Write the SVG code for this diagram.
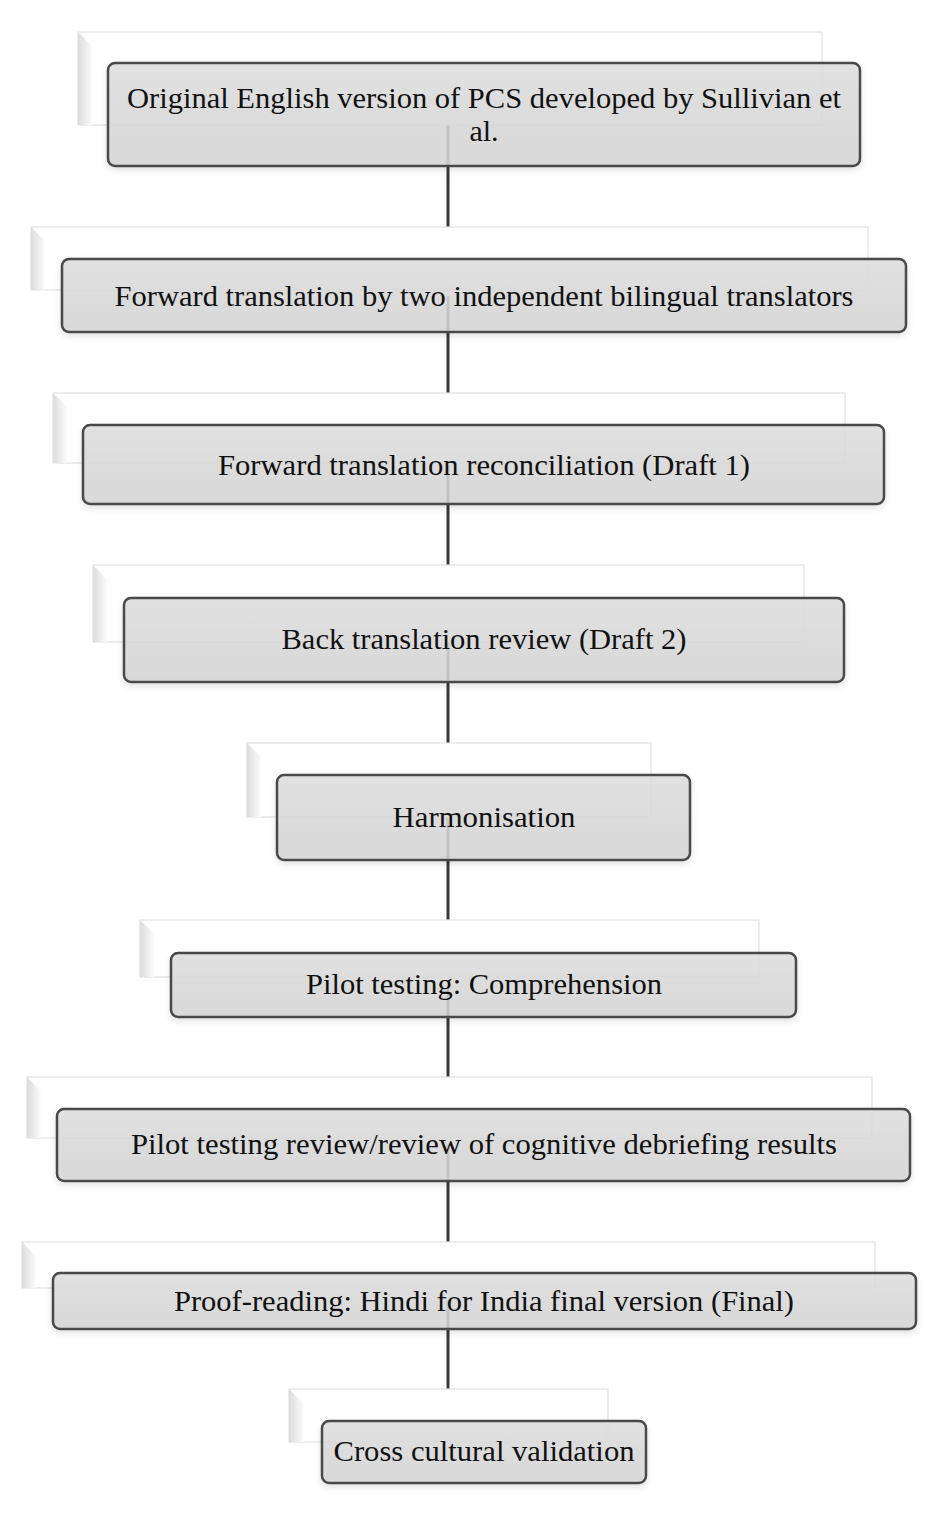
<svg xmlns="http://www.w3.org/2000/svg" width="926" height="1528" viewBox="0 0 926 1528">
<defs>
<linearGradient id="bevel" x1="0" y1="0" x2="1" y2="0">
<stop offset="0" stop-color="#dcdcdc"/>
<stop offset="1" stop-color="#fbfbfb"/>
</linearGradient>
<linearGradient id="boxfill" x1="0" y1="0" x2="0" y2="1">
<stop offset="0" stop-color="#dedede"/>
<stop offset="1" stop-color="#d5d5d5"/>
</linearGradient>
<filter id="ds" x="-5%" y="-20%" width="110%" height="150%">
<feDropShadow dx="0" dy="3" stdDeviation="3" flood-color="#000" flood-opacity="0.12"/>
</filter>
</defs>
<style>
.back{fill:#ffffff;stroke:#e2e2e2;stroke-width:1.2}
.bev{fill:url(#bevel)}
.box{fill:url(#boxfill);fill-opacity:0.88;stroke:#4a4a4a;stroke-width:2.5;filter:url(#ds)}
.lbl{font-family:"Liberation Serif","Times New Roman",serif;font-size:30px;fill:#111111;text-anchor:middle}
.con{stroke:#383838;stroke-width:3;fill:none}
</style>
<rect width="926" height="1528" fill="#ffffff"/>
<g id="connectors">
<line class="con" x1="448" y1="114" x2="448" y2="227"/>
<line class="con" x1="448" y1="296" x2="448" y2="393"/>
<line class="con" x1="448" y1="465" x2="448" y2="565"/>
<line class="con" x1="448" y1="640" x2="448" y2="743"/>
<line class="con" x1="448" y1="817" x2="448" y2="920"/>
<line class="con" x1="448" y1="985" x2="448" y2="1077"/>
<line class="con" x1="448" y1="1145" x2="448" y2="1242"/>
<line class="con" x1="448" y1="1301" x2="448" y2="1389"/>
</g>
<g id="node1">
<rect class="back" x="78" y="32" width="744" height="93"/>
<polygon class="bev" points="78,32 92,46 92,125 78,125"/>
<rect class="box" x="108" y="63" width="752" height="103" rx="7"/>
<text class="lbl" x="484" y="108" textLength="714" lengthAdjust="spacingAndGlyphs">Original English version of PCS developed by Sullivian et</text>
<text class="lbl" x="484" y="141">al.</text>
</g>
<g id="node2">
<rect class="back" x="31" y="227" width="837" height="63"/>
<polygon class="bev" points="31,227 45,241 45,290 31,290"/>
<rect class="box" x="62" y="259" width="844" height="73" rx="7"/>
<text class="lbl" x="484" y="306" textLength="739" lengthAdjust="spacingAndGlyphs">Forward translation by two independent bilingual translators</text>
</g>
<g id="node3">
<rect class="back" x="53" y="393" width="792" height="70"/>
<polygon class="bev" points="53,393 67,407 67,463 53,463"/>
<rect class="box" x="83" y="425" width="801" height="79" rx="7"/>
<text class="lbl" x="484" y="475" textLength="532" lengthAdjust="spacingAndGlyphs">Forward translation reconciliation (Draft 1)</text>
</g>
<g id="node4">
<rect class="back" x="93" y="565" width="711" height="77"/>
<polygon class="bev" points="93,565 107,579 107,642 93,642"/>
<rect class="box" x="124" y="598" width="720" height="84" rx="7"/>
<text class="lbl" x="484" y="649" textLength="405" lengthAdjust="spacingAndGlyphs">Back translation review (Draft 2)</text>
</g>
<g id="node5">
<rect class="back" x="247" y="743" width="404" height="74"/>
<polygon class="bev" points="247,743 261,757 261,817 247,817"/>
<rect class="box" x="277" y="775" width="413" height="85" rx="7"/>
<text class="lbl" x="484" y="827" textLength="183" lengthAdjust="spacingAndGlyphs">Harmonisation</text>
</g>
<g id="node6">
<rect class="back" x="140" y="920" width="619" height="57"/>
<polygon class="bev" points="140,920 154,934 154,977 140,977"/>
<rect class="box" x="171" y="953" width="625" height="64" rx="7"/>
<text class="lbl" x="484" y="994" textLength="356" lengthAdjust="spacingAndGlyphs">Pilot testing: Comprehension</text>
</g>
<g id="node7">
<rect class="back" x="27" y="1077" width="845" height="61"/>
<polygon class="bev" points="27,1077 41,1091 41,1138 27,1138"/>
<rect class="box" x="57" y="1109" width="853" height="72" rx="7"/>
<text class="lbl" x="484" y="1154" textLength="706" lengthAdjust="spacingAndGlyphs">Pilot testing review/review of cognitive debriefing results</text>
</g>
<g id="node8">
<rect class="back" x="22" y="1242" width="853" height="46"/>
<polygon class="bev" points="22,1242 36,1256 36,1288 22,1288"/>
<rect class="box" x="53" y="1273" width="863" height="56" rx="7"/>
<text class="lbl" x="484" y="1311" textLength="620" lengthAdjust="spacingAndGlyphs">Proof-reading: Hindi for India final version (Final)</text>
</g>
<g id="node9">
<rect class="back" x="289" y="1389" width="319" height="53"/>
<polygon class="bev" points="289,1389 303,1403 303,1442 289,1442"/>
<rect class="box" x="322" y="1421" width="324" height="62" rx="7"/>
<text class="lbl" x="484" y="1461" textLength="301" lengthAdjust="spacingAndGlyphs">Cross cultural validation</text>
</g>
</svg>
